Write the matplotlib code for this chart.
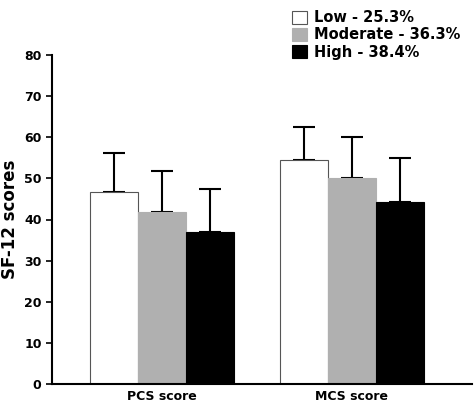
import numpy as np
import matplotlib.pyplot as plt

groups = ['PCS score', 'MCS score']
labels = ['Low - 25.3%', 'Moderate - 36.3%', 'High - 38.4%']
means = {
    'Low - 25.3%': [46.6, 54.4],
    'Moderate - 36.3%': [41.8, 50.2],
    'High - 38.4%': [37.0, 44.3],
}
sds = {
    'Low - 25.3%': [9.5, 8.1],
    'Moderate - 36.3%': [10.1, 9.8],
    'High - 38.4%': [10.3, 10.7],
}
colors = ['white', '#b0b0b0', 'black']

fig = plt.figure(figsize=(4.74, 4.04), dpi=100)
ax = fig.add_axes([52 / 474, 20 / 404, 420 / 474, 329 / 404])

x = np.arange(len(groups))
w = 0.2526
for i, (lab, c) in enumerate(zip(labels, colors)):
    pos = x + (i - 1) * w
    ax.bar(pos, means[lab], w, color=c, edgecolor='#555555' if c == 'white' else c,
           linewidth=0.8, label=lab, zorder=2)
    ax.errorbar(pos, means[lab], yerr=[np.zeros(2), sds[lab]], fmt='none',
                ecolor='black', elinewidth=1.5, capsize=8, capthick=1.5, zorder=1)

ax.set_xlim(-0.579, 1.632)
ax.set_ylim(0, 80)
ax.set_yticks(range(0, 81, 10))
ax.set_xticks(x)
ax.set_xticklabels(groups, fontweight='bold', fontsize=9)
ax.tick_params(axis='x', length=0, pad=4)
ax.tick_params(axis='y', labelsize=9, width=1.2, length=4)
for t in ax.get_yticklabels():
    t.set_fontweight('bold')
ax.set_ylabel('SF-12 scores', fontweight='bold', fontsize=12)
ax.spines['top'].set_visible(False)
ax.spines['right'].set_visible(False)
ax.spines['left'].set_linewidth(1.5)
ax.spines['bottom'].set_linewidth(1.5)

leg = fig.legend(loc='upper left', bbox_to_anchor=(282 / 474, 1.0), frameon=False,
                 fontsize=10.5, handlelength=1.0, handleheight=1.0,
                 labelspacing=0.15, handletextpad=0.5, borderpad=0.2)
for t in leg.get_texts():
    t.set_fontweight('bold')

plt.savefig('out.png', dpi=100)
